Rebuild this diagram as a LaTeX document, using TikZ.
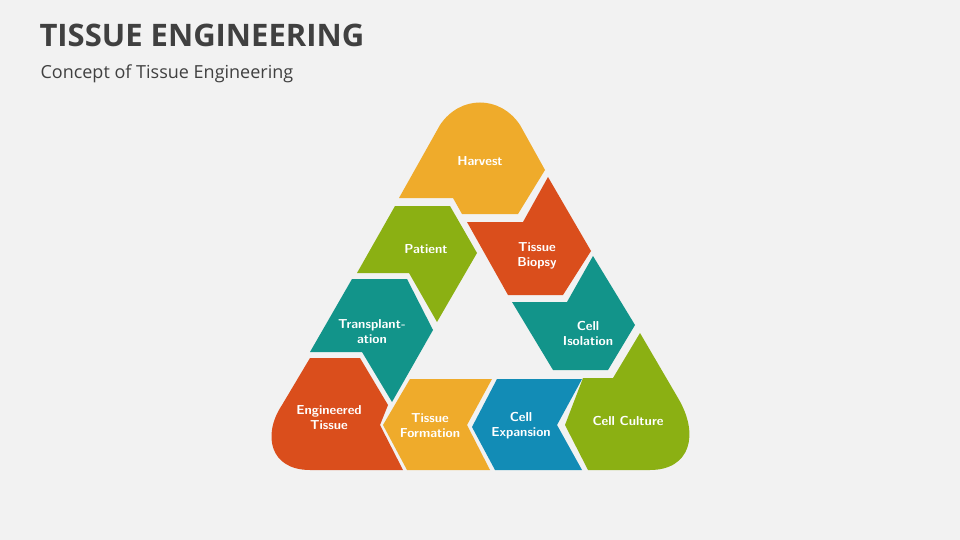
\documentclass[tikz,border=0pt]{standalone}
\usepackage{fontspec}
\setmainfont{Open Sans}
\definecolor{cOr}{HTML}{EFAB2B}
\definecolor{cRd}{HTML}{DA4E1C}
\definecolor{cTl}{HTML}{12948A}
\definecolor{cGr}{HTML}{8BB013}
\definecolor{cBl}{HTML}{128CB6}
\definecolor{bg}{HTML}{F2F2F2}
\definecolor{tx}{HTML}{404040}
\begin{document}
\begin{tikzpicture}[x=1pt,y=-1pt,
  lab/.style={text=white,font=\fontsize{13}{15}\selectfont\bfseries\sffamily,align=center},
  seg/.style={draw=none}]
\fill[bg] (0,0) rectangle (960,540);
\useasboundingbox (0,0) rectangle (960,540);
\node[anchor=west,text=tx,font=\fontsize{31}{36}\selectfont\bfseries] (title) at (36,35) {TISSUE ENGINEERING};
\node[anchor=west,text=tx,font=\fontsize{18}{22}\selectfont] (sub) at (37,74) {Concept of Tissue Engineering};
% Harvest
\fill[cOr] (399,198) -- (453,198) -- (462,214) -- (518,214) -- (545,170) -- (520,125) .. controls (500,95) and (460,95) .. (440,125) -- cycle;
% Tissue Biopsy
\fill[cRd] (467,222) -- (523,222) -- (548,177) -- (591,251) -- (563,295) -- (508,295) -- cycle;
% Cell Isolation
\fill[cTl] (512,302) -- (567,302) -- (593,256) -- (635,325) -- (608,370) -- (553,370) -- cycle;
% Cell Culture
\fill[cGr] (583,378) -- (613,378) -- (640,333) -- (678,398) .. controls (700,435) and (690,470) .. (650,470) -- (588,470) -- (565,425) -- cycle;
% Cell Expansion
\fill[cBl] (497,379) -- (582,379) -- (557,425) -- (582,470) -- (495,470) -- (472,427) -- cycle;
% Tissue Formation
\fill[cOr] (410,379) -- (492,379) -- (467,425) -- (490,470) -- (407,470) -- (383,425) -- cycle;
% Engineered Tissue
\fill[cRd] (310,358) -- (360,358) -- (388,405) -- (380,425) -- (403,470) -- (310,470) .. controls (270,470) and (262,435) .. (282,405) -- cycle;
% Transplantation
\fill[cTl] (352,279) -- (407,279) -- (433,330) -- (392,402) -- (362,352) -- (310,352) -- cycle;
% Patient
\fill[cGr] (395,206) -- (450,206) -- (477,253) -- (437,322) -- (409,273) -- (357,273) -- cycle;
\node[lab] (harvest) at (480,161) {Harvest};
\node[lab] (biopsy) at (537,256) {Tissue\\Biopsy};
\node[lab] (isol) at (588,333) {Cell\\Isolation};
\node[lab] (culture) at (628,421) {Cell Culture};
\node[lab] (expan) at (521,426) {Cell\\Expansion};
\node[lab] (form) at (430,426) {Tissue\\Formation};
\node[lab] (eng) at (329,418) {Engineered\\Tissue};
\node[lab] (trans) at (372,332) {Transplant-\\ation};
\node[lab] (patient) at (426,249) {Patient};
\end{tikzpicture}
\end{document}
